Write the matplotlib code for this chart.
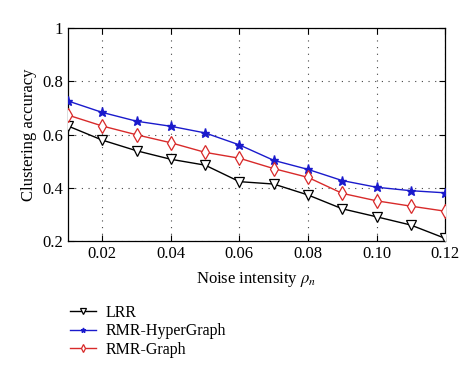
import matplotlib
matplotlib.use("Agg")
import matplotlib.pyplot as plt

# noise intensity levels
noise = [0.01, 0.02, 0.03, 0.04, 0.05, 0.06, 0.07, 0.08, 0.09, 0.10, 0.11, 0.12]

lrr = [0.632, 0.579, 0.539, 0.507, 0.485, 0.423, 0.414, 0.373, 0.321, 0.291, 0.260, 0.210]
rmr_hyper = [0.726, 0.683, 0.650, 0.631, 0.606, 0.561, 0.503, 0.469, 0.427, 0.402, 0.389, 0.381]
rmr_graph = [0.673, 0.632, 0.599, 0.569, 0.533, 0.511, 0.472, 0.439, 0.379, 0.351, 0.331, 0.312]

xticks = [0.02, 0.04, 0.06, 0.08, 0.10, 0.12]
xticklabels = ["0.02", "0.04", "0.06", "0.08", "0.10", "0.12"]
yticks = [0.2, 0.4, 0.6, 0.8, 1.0]
yticklabels = ["0.2", "0.4", "0.6", "0.8", "1"]

plt.rcParams['font.family'] = ['Liberation Serif', 'DejaVu Serif']
plt.rcParams['mathtext.fontset'] = 'stix'
plt.rcParams['font.size'] = 12

fig = plt.figure(figsize=(4.74, 3.74), dpi=100)
ax = fig.add_axes([0.1435, 0.3556, 0.7955, 0.5694])

ax.plot(noise, lrr, color='black', lw=1, marker='v', ms=7, mfc='white', mec='black',
        mew=0.9, label='LRR', zorder=3)
ax.plot(noise, rmr_hyper, color='#1a1acc', lw=1, marker='*', ms=6.5, mfc='#1a1acc',
        mec='#1a1acc', label='RMR-HyperGraph', zorder=3)
ax.plot(noise, rmr_graph, color='#d82a2a', lw=1, marker='d', ms=7, mfc='white',
        mec='#d82a2a', mew=0.9, label='RMR-Graph', zorder=3)

ax.set_xlim(0.01, 0.12)
ax.set_ylim(0.2, 1.0)
ax.set_xticks(xticks)
ax.set_xticklabels(xticklabels)
ax.set_yticks(yticks)
ax.set_yticklabels(yticklabels)
ax.tick_params(direction='in', top=True, right=True, length=4, width=0.8)
ax.grid(True, linestyle=(0, (1, 5)), color='#444444', lw=0.8)
for s in ax.spines.values():
    s.set_linewidth(0.9)

ax.set_xlabel(r'Noise intensity $\rho_n$', labelpad=6)
ax.set_ylabel('Clustering accuracy')

fig.legend(loc='upper left', bbox_to_anchor=(0.125, 0.215), frameon=False,
           handlelength=1.6, handletextpad=0.6, markerscale=0.55,
           labelspacing=0.15, borderpad=0.2, fontsize=11.5)

fig.savefig('out.png', dpi=100)
